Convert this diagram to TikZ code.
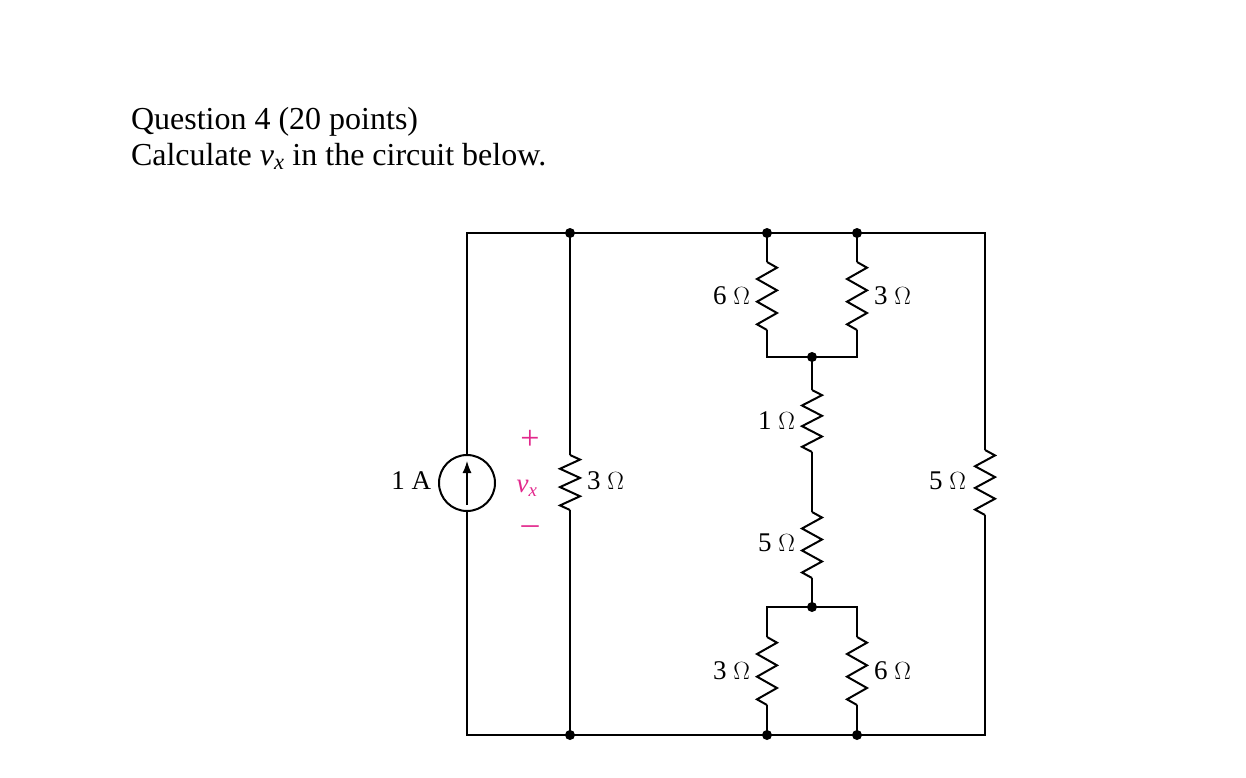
\documentclass[tikz,border=0pt]{standalone}
\usepackage{fontspec}
\usetikzlibrary{arrows.meta}
\setmainfont{Liberation Serif}
\definecolor{pk}{RGB}{226,40,140}
\begin{document}
\begin{tikzpicture}[x=1pt,y=-1pt,line width=2pt,
  dot/.style={circle,fill,inner sep=0pt,minimum size=10pt},
  lbl/.style={font=\fontsize{27}{30}\selectfont,inner sep=2pt},
  txt/.style={font=\fontsize{32}{36}\selectfont,anchor=base west,inner sep=0pt}]
\useasboundingbox (0,0) rectangle (1246,778);
\newcommand{\zres}[4]{% x, y1, y2, amplitude
  \draw (#1,#2) \foreach \k in {1,...,6}{ -- ({#1+(2*mod(\k,2)-1)*#4},{#2+(#3-#2)*(2*\k-1)/12}) } -- (#1,#3);}
\node[txt] (t1) at (130,130) {Question 4 (20 points)};
\node[txt] (t2) at (130,166) {Calculate \textit{v}$_{\mathit{x}}$ in the circuit below.};
% outer wires
\draw (467,455) -- (467,233) -- (985,233) -- (985,450);
\draw (985,515) -- (985,735) -- (467,735) -- (467,511);
% source
\node[draw,circle,minimum size=56pt,inner sep=0pt] (src) at (467,483) {};
\draw[-{Latex[length=12pt,width=9pt]},line width=1.2pt] (467,505) -- (467,461);
\node[lbl,anchor=east] (l1) at (434,481) {1 A};
% 3 ohm
\draw (570,233) -- (570,455); \draw (570,510) -- (570,735);
\zres{570}{455}{510}{10}
\node[lbl,anchor=west] (l2) at (584,481) {3 $\Omega$};
\node[lbl,pk,font=\fontsize{34}{36}\selectfont] (pl) at (530,440) {+};
\node[lbl,pk] (vx) at (527,488) {\textit{v}$_{\mathit{x}}$};
\node[lbl,pk,font=\fontsize{34}{36}\selectfont] (mi) at (530,530) {--};
% top parallel
\draw (767,233) -- (767,262); \zres{767}{262}{330}{10} \draw (767,330) -- (767,357) -- (857,357) -- (857,330);
\draw (857,233) -- (857,262); \zres{857}{262}{330}{10}
\node[lbl,anchor=east] (l3) at (753,296) {6 $\Omega$};
\node[lbl,anchor=west] (l4) at (871,296) {3 $\Omega$};
% middle series
\draw (812,357) -- (812,390); \zres{812}{390}{452}{10} \draw (812,452) -- (812,512); \zres{812}{512}{578}{10} \draw (812,578) -- (812,607);
\node[lbl,anchor=east] (l5) at (798,421) {1 $\Omega$};
\node[lbl,anchor=east] (l6) at (798,543) {5 $\Omega$};
% bottom parallel
\draw (767,735) -- (767,705) ; \zres{767}{637}{705}{10} \draw (767,637) -- (767,607) -- (857,607) -- (857,637);
\zres{857}{637}{705}{10} \draw (857,705) -- (857,735);
\node[lbl,anchor=east] (l7) at (753,671) {3 $\Omega$};
\node[lbl,anchor=west] (l8) at (871,671) {6 $\Omega$};
% right
\zres{985}{450}{515}{10}
\node[lbl,anchor=east] (l9) at (969,481) {5 $\Omega$};
% dots
\foreach \p in {(570,233),(767,233),(857,233),(812,357),(812,607),(570,735),(767,735),(857,735)} \node[dot] at \p {};
\end{tikzpicture}
\end{document}
